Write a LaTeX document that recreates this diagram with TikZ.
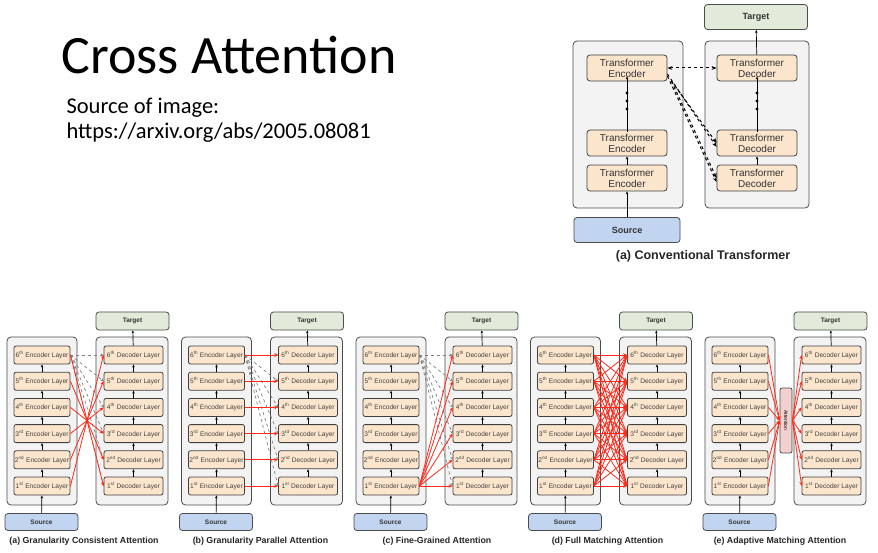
\documentclass[tikz,border=0pt]{standalone}
\usepackage{fontspec}
\setmainfont{Liberation Sans}
\newfontfamily\carl{Carlito}
\usetikzlibrary{arrows.meta}
\definecolor{peach}{HTML}{FCE5CD}
\definecolor{boxg}{HTML}{F3F3F3}
\definecolor{tgt}{HTML}{E2EBD9}
\definecolor{src}{HTML}{C2D5F0}
\definecolor{pinkb}{HTML}{F2D0D0}
\definecolor{redl}{HTML}{FF2A1A}
\begin{document}
\begin{tikzpicture}[x=1pt,y=-1pt,
  outer/.style={draw=black!70,fill=boxg,rounded corners=4pt,line width=0.8pt},
  layer/.style={draw=black!75,fill=peach,rounded corners=2pt,line width=0.8pt,minimum width=56,minimum height=18,inner sep=0pt,font=\fontsize{6.6}{7}\selectfont,text=black!75},
  big/.style={draw=black!75,fill=peach,rounded corners=3pt,line width=0.8pt,minimum width=80,minimum height=26,inner sep=0pt,align=center,font=\fontsize{10}{11}\selectfont,text=black!80},
  tg/.style={draw=black!70,fill=tgt,rounded corners=3pt,line width=0.8pt,inner sep=0pt,font=\bfseries\fontsize{6.5}{7}\selectfont,text=black!80},
  sr/.style={draw=black!70,fill=src,rounded corners=3pt,line width=0.8pt,inner sep=0pt,font=\bfseries\fontsize{6.5}{7}\selectfont,text=black!80},
  up/.style={-{Stealth[length=3pt,width=2.5pt]},line width=0.7pt,black},
  rd/.style={-{Stealth[length=4pt,width=3.5pt]},line width=0.8pt,redl},
  gd/.style={-{Stealth[length=3pt,width=3pt]},dashed,line width=0.7pt,gray},
  captxt/.style={font=\bfseries\fontsize{8.8}{9}\selectfont,text=black!85}]
\useasboundingbox (0,0) rectangle (878,553);
\fill[white] (0,0) rectangle (878,553);
% title
\node[anchor=west,font=\carl\fontsize{54}{58}\selectfont] (title) at (58,55) {Cross Attention};
\node[anchor=west,font=\carl\fontsize{22.5}{25}\selectfont,align=left] (sub) at (63,120) {Source of image:\\https://arxiv.org/abs/2005.08081};
% top diagram
\node[outer,minimum width=110,minimum height=167] (tenc) at (628,124.5) {};
\node[outer,minimum width=104,minimum height=167] (tdec) at (757,124.5) {};
\node[big] (te3) at (627,68) {Transformer\\Encoder};
\node[big] (te2) at (627,143) {Transformer\\Encoder};
\node[big] (te1) at (627,178) {Transformer\\Encoder};
\node[big] (td3) at (757,68) {Transformer\\Decoder};
\node[big] (td2) at (757,143) {Transformer\\Decoder};
\node[big] (td1) at (757,178) {Transformer\\Decoder};
\node[tg,minimum width=103,minimum height=25,font=\bfseries\fontsize{9}{10}\selectfont] (tt) at (756,17) {Target};
\node[sr,minimum width=106,minimum height=25,font=\bfseries\fontsize{9}{10}\selectfont] (ts) at (627,230) {Source};
\node[captxt,font=\bfseries\fontsize{12.5}{13}\selectfont] (tcap) at (703,256) {(a) Conventional Transformer};
\draw[up] (ts) -- (te1);
\draw[up] (te1) -- (te2);
\draw[up] (td1) -- (td2);
\draw[up] (td3) -- (tt);
\foreach \c in {te,td}{
  \coordinate (\c a) at ([yshift=-2pt]\c 2.north);
  \coordinate (\c b) at ([yshift=5pt]\c 3.south);
  \draw[up] (\c a) -- (\c b);
  \foreach \yy in {93,101,109}{\fill (\c 3.south |- 0,\yy) circle (1.6pt);}
}
\draw[{Stealth[length=5pt]}-{Stealth[length=5pt]},dashed,line width=1pt] (te3.east) -- (td3.west);
\draw[-{Stealth[length=5pt]},dashed,line width=1pt] ([yshift=-6pt]te3.east) -- ([yshift=-4pt]td2.west);
\draw[-{Stealth[length=5pt]},dashed,line width=1pt] ([xshift=4pt,yshift=-13pt]te3.east) -- (td2.west);
\draw[-{Stealth[length=5pt]},dashed,line width=1pt] ([yshift=-8pt]te3.east) -- ([yshift=-4pt]td1.west);
\draw[-{Stealth[length=5pt]},dashed,line width=1pt] ([xshift=4pt,yshift=-13pt]te3.east) -- (td1.west);
% bottom panels
\foreach \k/\cp/\cx in {0/{(a) Granularity Consistent Attention}/84,1/{(b) Granularity Parallel Attention}/86,2/{(c) Fine-Grained Attention}/88,3/{(d) Full Matching Attention}/84,4/{(e) Adaptive Matching Attention}/82}{
  \pgfmathsetmacro\ox{\k*174.5}
  \begin{scope}[xshift=\ox pt]
    \node[outer,minimum width=70,minimum height=168] (p\k eb) at (42,421) {};
    \node[outer,minimum width=72,minimum height=168] (p\k db) at (132,421) {};
    \foreach \i/\s in {1/st,2/nd,3/rd,4/th,5/th,6/th}{
      \node[layer] (p\k e\i) at (42,{355+(6-\i)*26.2}) {\i\textsuperscript{\s} Encoder Layer};
      \node[layer,minimum width=59] (p\k d\i) at (133.5,{355+(6-\i)*26.2}) {\i\textsuperscript{\s} Decoder Layer};
    }
    \node[tg,minimum width=73,minimum height=18] (p\k t) at (132.5,321) {Target};
    \node[sr,minimum width=73,minimum height=17] (p\k s) at (41.5,522) {Source};
    \node[captxt] (p\k c) at (\cx,541) {\cp};
    \draw[up] (p\k s) -- (p\k e1);
    \draw[up] (p\k d6) -- (p\k t);
    \foreach \i [evaluate=\i as \j using int(\i+1)] in {1,...,5}{
      \draw[up] (p\k e\i) -- (p\k e\j);
      \draw[up] (p\k d\i) -- (p\k d\j);
    }
  \end{scope}
}
% (a)
\foreach \i in {1,...,6}{\draw[gd] (p0e6.east) -- (p0d\i.west);}
\foreach \i [evaluate=\i as \j using int(7-\i)] in {1,...,6}{\draw[rd] (p0e\i.east) -- (p0d\j.west);}
% (b)
\foreach \i in {1,...,6}{\draw[gd] (p1e6.east) -- (p1d\i.west);}
\foreach \i in {1,...,6}{\draw[rd] (p1e\i.east) -- (p1d\i.west);}
% (c)
\foreach \i in {1,...,6}{\draw[gd] (p2e6.east) -- (p2d\i.west);}
\foreach \i in {1,...,6}{\draw[rd] (p2e1.east) -- (p2d\i.west);}
% (d)
\foreach \i in {1,...,6}{\foreach \j in {1,...,6}{\draw[rd] (p3e\i.east) -- (p3d\j.west);}}
% (e)
\node[draw=black!70,fill=pinkb,rounded corners=2pt,line width=0.8pt,minimum width=12,minimum height=65,inner sep=0pt] (att) at (786,420.5) {\rotatebox{-90}{\fontsize{5}{5}\selectfont Attention}};
\foreach \i in {1,...,6}{\draw[rd] (p4e\i.east) -- (att.west);}
\foreach \i in {1,...,6}{\draw[rd] (att.east) -- (p4d\i.west);}
\end{tikzpicture}
\end{document}
